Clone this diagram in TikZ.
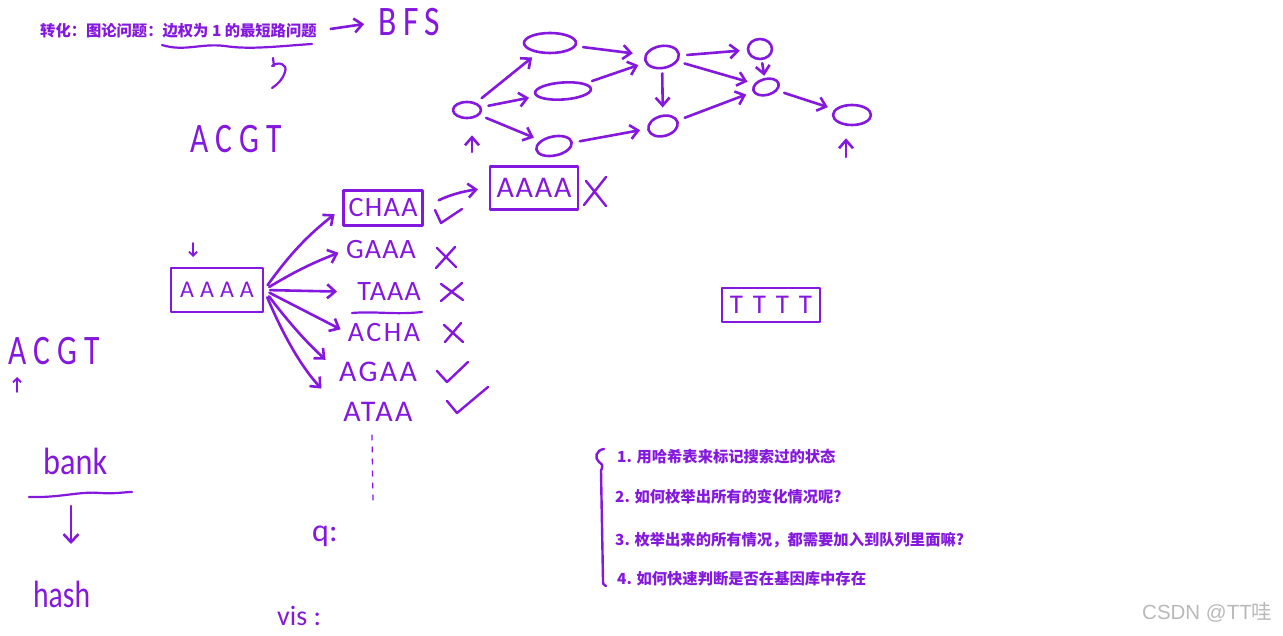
\documentclass[tikz,border=0pt]{standalone}
\usepackage{fontspec}
\usetikzlibrary{arrows.meta,shapes.geometric}
\newfontfamily\hand{Carlito}
\newfontfamily\cjk{Noto Sans CJK SC}
\newfontfamily\wmfont{Liberation Sans}
\definecolor{pen}{RGB}{132,24,222}
\definecolor{wmgray}{RGB}{185,185,185}
\newcommand\fsz[1]{\fontsize{#1}{#1}\selectfont}
\newcommand\lsp[2]{{\addfontfeature{LetterSpace=#1}#2}}
\begin{document}
\begin{tikzpicture}[x=1pt,y=-1pt,line cap=round,line join=round,
  pen/.style={draw=pen,line width=2.6pt},
  arr/.style={pen,-{Straight Barb[length=8pt,width=14pt]},shorten <=7pt,shorten >=7pt},
  arrsmall/.style={draw=pen,line width=1.8pt,-{Straight Barb[length=4pt,width=8pt]}},
  hw/.style={text=pen,inner sep=0pt,font=\hand},
  bx/.style={draw=pen,line width=2.2pt,inner sep=0pt,text=pen,font=\hand},
  ell/.style={ellipse,draw=pen,line width=2.6pt,inner sep=0pt},
  cn/.style={text=pen,inner sep=0pt,anchor=west,font={\cjk\bfseries\fsz{15.3}}},
  tick/.style={draw=pen,line width=2.4pt}]
\fill[white] (0,0) rectangle (1283,636);
\useasboundingbox (0,0) rectangle (1283,636);

% ---- top title ----
\node[cn] (tt) at (40,31) {转化：图论问题：边权为 1 的最短路问题};
\draw[pen,line width=2.2pt] (162,45) .. controls (185,52) and (200,43) .. (225,46) .. controls (250,50) and (280,46) .. (312,44);
\draw[pen,line width=2.2pt] (273,58) -- (274,66);
\draw[pen,line width=2.2pt] (272,66) .. controls (278,61) and (288,64) .. (285,72) .. controls (283,79) and (278,84) .. (272,88);
\node[hw,anchor=west,xscale=0.8,font={\hand\fsz{42}}] (bfs) at (378,22) {\lsp{20}{BFS}};
\draw[arr,shorten <=14pt,shorten >=14pt] (tt.east) -- (bfs.west);
\node[hw,anchor=west,xscale=0.75,font={\hand\fsz{42}}] (acgt1) at (190,139) {\lsp{23}{ACGT}};

% ---- BFS graph ----
\node[ell,minimum width=28pt,minimum height=16pt] (s) at (467,110) {};
\node[ell,minimum width=52pt,minimum height=20pt] (t1) at (550,43) {};
\node[ell,minimum width=56pt,minimum height=17pt,rotate=4] (t2) at (563,91) {};
\node[ell,minimum width=36pt,minimum height=19pt,rotate=12] (t3) at (554,146) {};
\node[ell,minimum width=34pt,minimum height=22pt,rotate=10] (n1) at (662,57) {};
\node[ell,minimum width=30pt,minimum height=20pt,rotate=15] (n2) at (663,126) {};
\node[ell,minimum width=24pt,minimum height=20pt] (n3) at (760,49) {};
\node[ell,minimum width=26pt,minimum height=16pt,rotate=15] (n4) at (766,87) {};
\node[ell,minimum width=38pt,minimum height=20pt] (e) at (852,115) {};
\draw[arr] (s) -- (t1);
\draw[arr] (s) -- (t2);
\draw[arr] (s) -- (t3);
\draw[arr,shorten >=12pt] (t1) -- (n1);
\draw[arr] (t2) -- (n1);
\draw[arr] (t3) -- (n2);
\draw[arr,shorten <=4pt] (n1) -- (n2);
\draw[arr] (n1) -- (n3);
\draw[arr] (n1) -- (n4);
\draw[arr] (n2) -- (n4);
\draw[arr,shorten <=3pt,shorten >=2pt] (n3) -- (n4);
\draw[arr] (n4) -- (e);
\coordinate (su) at (472,152);
\draw[arr,shorten <=0pt,shorten >=16pt] (su) -- (su |- s.south);
\coordinate (eu) at (846,157);
\draw[arr,shorten <=0pt,shorten >=12pt] (eu) -- (eu |- e.south);

% ---- tree ----
\node[bx,minimum width=92pt,minimum height=44pt,font={\hand\fsz{24}}] (A0) at (217,290) {\lsp{25}{AAAA}};
\coordinate (a0top) at (193,243);
\draw[arrsmall] (a0top) -- (193,257);
\node[bx,minimum width=79pt,minimum height=35pt,font={\hand\fsz{28}}] (C) at (383,208) {\lsp{5}{CHAA}};
\node[hw,font={\hand\fsz{28}}] (G) at (381,250) {\lsp{4}{GAAA}};
\node[hw,font={\hand\fsz{28}}] (T) at (389,292) {\lsp{4}{TAAA}};
\node[hw,font={\hand\fsz{28}}] (AC) at (384,333) {\lsp{9}{ACHA}};
\node[hw,font={\hand\fsz{30}}] (AG) at (378,372) {\lsp{8}{AGAA}};
\node[hw,font={\hand\fsz{30}}] (AT) at (378,412) {\lsp{8}{ATAA}};
\draw[pen,line width=2.2pt] (352,313) .. controls (375,311) and (395,315) .. (422,312);
\draw[arr,shorten <=6pt,shorten >=10pt] (A0.east) to[bend left=8] (C.west);
\draw[arr,shorten <=6pt,shorten >=8pt] (A0.east) to[bend left=5] (G.west);
\draw[arr,shorten <=6pt,shorten >=20pt] (A0.east) -- (T.west);
\draw[arr,shorten <=6pt,shorten >=8pt] (A0.east) -- (AC.west);
\draw[arr,shorten <=8pt,shorten >=18pt] (A0.east) to[bend right=5] (AG.west);
\draw[arr,shorten <=8pt,shorten >=32pt] (A0.east) to[bend right=10] (AT.west);
\node[bx,minimum width=88pt,minimum height=43pt,font={\hand\fsz{30}}] (A2) at (534,188) {\lsp{6}{AAAA}};
\draw[arr,shorten <=17pt,shorten >=11pt] (C.east) to[bend left=10] (A2.west);
% marks
\draw[tick] (435,210) -- (441,223) -- (462,209);
\draw[tick] (437,248) -- (456,267) (455,247) -- (436,268);
\draw[tick] (441,284) -- (463,300) (462,283) -- (441,301);
\draw[tick] (444,325) -- (463,342) (461,323) -- (445,342);
\draw[tick] (437,371) -- (447,382) -- (468,362);
\draw[tick] (447,401) -- (457,413) -- (488,387);
\draw[tick] (586,181) -- (606,206) (606,177) -- (584,205);
\draw[draw=pen,line width=1.3pt,dash pattern=on 5pt off 7pt] (372,435) -- (373,502);
\node[hw,anchor=west,font={\hand\fsz{32}}] (q) at (312,536) {q:};
\node[hw,anchor=west,font={\hand\fsz{28}}] (vis) at (277,616) {vis :};

% ---- left ----
\node[hw,anchor=west,xscale=0.75,font={\hand\fsz{42}}] (acgt2) at (8,351) {\lsp{23}{ACGT}};
\coordinate (up2) at (17,392);
\draw[arrsmall] (up2) -- (17,377);
\node[hw,anchor=west,xscale=0.85,font={\hand\fsz{38}}] (bank) at (43,461) {bank};
\draw[pen,line width=2.2pt] (29,497) .. controls (60,498) and (80,491) .. (100,493) .. controls (115,494) and (125,492) .. (132,492);
\node[hw,anchor=west,xscale=0.78,font={\hand\fsz{38}}] (hash) at (33,594) {hash};
\coordinate (b1) at (71,506);
\coordinate (h1) at (71,544);
\draw[pen,-{Straight Barb[length=8pt,width=15pt]}] (b1) -- (h1);

% ---- TTTT ----
\node[bx,minimum width=98pt,minimum height=34pt,font={\hand\fsz{27}}] (TT) at (771,305) {\lsp{35}{TTTT}};

% ---- list ----
\draw[pen,line width=2.4pt] (604,449) .. controls (596,450) and (594,458) .. (599,462) .. controls (603,465) .. (601,471) -- (603,580) .. controls (603,584) .. (606,586);
\node[cn] (l1) at (617,457) {1. 用哈希表来标记搜索过的状态};
\node[cn] (l2) at (615,497) {2. 如何枚举出所有的变化情况呢?};
\node[cn] (l3) at (615,540) {3. 枚举出来的所有情况，都需要加入到队列里面嘛?};
\node[cn] (l4) at (617,579) {4. 如何快速判断是否在基因库中存在};

% ---- watermark ----
\node[anchor=west,inner sep=0pt,text=wmgray,font={\wmfont\fsz{20.5}}] (wm) at (1142,612) {CSDN @TT{\cjk 哇}};
\end{tikzpicture}
\end{document}
